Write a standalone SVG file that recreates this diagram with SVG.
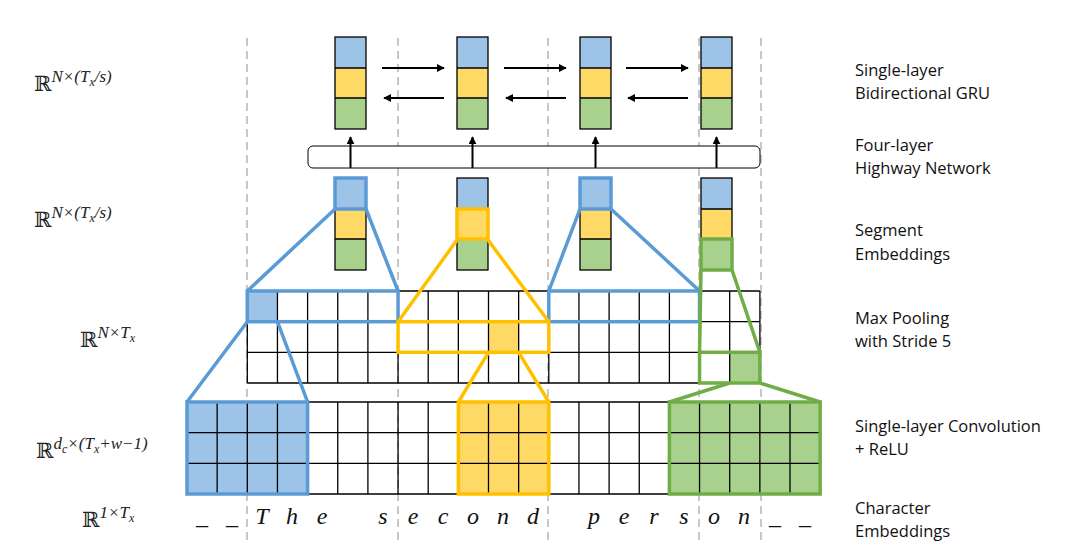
<svg xmlns="http://www.w3.org/2000/svg" width="1089" height="560" viewBox="0 0 1089 560">
<style>
.lbl{font-family:"Open Sans","Liberation Sans",sans-serif;font-size:16.5px;fill:#111}
.m{font-family:"DejaVu Serif","Liberation Serif",serif;font-size:21px;fill:#222}
.ms{font-family:"Liberation Serif",serif;font-style:italic;font-size:17px;fill:#222}
.ss{font-family:"Liberation Serif",serif;font-style:italic;font-size:12px;fill:#222}
.ch{font-family:"Liberation Serif",serif;font-style:italic;font-size:24px;fill:#111;text-anchor:middle}
.g{fill:none;stroke:#000;stroke-width:1.3}
.B{fill:#9DC3E6}.Y{fill:#FFD966}.G{fill:#A9D18E}
.bs{fill:none;stroke:#5B9BD5;stroke-width:3.5}
.ys{fill:none;stroke:#FFC000;stroke-width:3.5}
.gs{fill:none;stroke:#70AD47;stroke-width:3.5}
.d{stroke:#aaa;stroke-width:1.3;stroke-dasharray:8 5}
.a{stroke:#000;stroke-width:2;marker-end:url(#ar)}
</style>
<defs>
<marker id="ar" viewBox="0 0 10 10" refX="9" refY="5" markerWidth="4" markerHeight="4" orient="auto"><path d="M0,0L10,5L0,10z" fill="#000"/></marker>
<g id="stk"><rect x="0" y="0" width="31" height="31" class="B"/><rect x="0" y="31" width="31" height="30" class="Y"/><rect x="0" y="61" width="31" height="31" class="G"/><path d="M0,31H31M0,61H31" class="g"/><rect x="0" y="0" width="31" height="92" class="g"/></g>
</defs>
<rect width="1089" height="560" fill="#fff"/>
<g id="dashes">
<line x1="247" y1="38" x2="247" y2="540" class="d"/><line x1="398" y1="38" x2="398" y2="540" class="d"/><line x1="548" y1="38" x2="548" y2="540" class="d"/><line x1="699" y1="38" x2="699" y2="540" class="d"/><line x1="761" y1="38" x2="761" y2="540" class="d"/>
</g>
<g id="highway"><rect x="308" y="146" width="452" height="22" rx="5" fill="#fff" stroke="#000" stroke-width="1"/></g>
<g id="gru">
<use href="#stk" x="335" y="37"/><use href="#stk" x="457" y="37"/><use href="#stk" x="580" y="37"/><use href="#stk" x="701" y="37"/>
</g>
<g id="segments">
<use href="#stk" x="335" y="178"/><use href="#stk" x="457" y="178"/><use href="#stk" x="580" y="178"/><use href="#stk" x="701" y="178"/>
</g>
<g id="connectors">
<line x1="382" y1="68" x2="444" y2="68" class="a"/><line x1="504" y1="68" x2="566" y2="68" class="a"/><line x1="626" y1="68" x2="688" y2="68" class="a"/>
<line x1="444" y1="98" x2="384" y2="98" class="a"/><line x1="566" y1="98" x2="506" y2="98" class="a"/><line x1="688" y1="98" x2="628" y2="98" class="a"/>
<line x1="350.5" y1="168" x2="350.5" y2="137" class="a"/><line x1="472.5" y1="168" x2="472.5" y2="137" class="a"/><line x1="595.5" y1="168" x2="595.5" y2="137" class="a"/><line x1="716.5" y1="168" x2="716.5" y2="137" class="a"/>
</g>
<g id="maxpool">
<rect x="247.3" y="291" width="30.15" height="30.7" class="B"/>
<rect x="488.5" y="321.7" width="30.15" height="30.6" class="Y"/>
<rect x="729.9" y="352.3" width="30.15" height="30.7" class="G"/>
<path class="g" d="M247.3,291H759.9M247.3,321.7H759.9M247.3,352.3H759.9M247.3,383H759.9M247.3,291V383M277.45,291V383M307.6,291V383M337.75,291V383M367.9,291V383M398.05,291V383M428.2,291V383M458.35,291V383M488.5,291V383M518.65,291V383M548.8,291V383M578.95,291V383M609.1,291V383M639.25,291V383M669.4,291V383M699.55,291V383M729.7,291V383M759.9,291V383"/>
</g>
<g id="conv">
<rect x="187" y="402" width="120.6" height="92" class="B"/>
<rect x="458.35" y="402" width="90.45" height="92" class="Y"/>
<rect x="669.4" y="402" width="150.75" height="92" class="G"/>
<path class="g" d="M187,402H820.15M187,432.7H820.15M187,463.3H820.15M187,494H820.15M187,402V494M217.15,402V494M247.3,402V494M277.45,402V494M307.6,402V494M337.75,402V494M367.9,402V494M398.05,402V494M428.2,402V494M458.35,402V494M488.5,402V494M518.65,402V494M548.8,402V494M578.95,402V494M609.1,402V494M639.25,402V494M669.4,402V494M699.55,402V494M729.7,402V494M759.85,402V494M790,402V494M820.15,402V494"/>
</g>
<g id="highlights">
<rect x="187" y="402" width="120.6" height="92" class="bs"/>
<rect x="458.35" y="402" width="90.45" height="92" class="ys"/>
<rect x="669.4" y="402" width="150.75" height="92" class="gs"/>
<path class="bs" d="M247.3,321.7L187,402M277.45,321.7L307.6,402"/>
<path class="ys" d="M488.5,352.3L458.35,402M518.65,352.3L548.8,402"/>
<path class="gs" d="M729.7,383L669.4,402M759.9,383L820.15,402"/>
<rect x="247.3" y="291" width="150.75" height="30.7" class="bs"/>
<rect x="548.8" y="291" width="150.75" height="30.7" class="bs"/>
<rect x="398.05" y="321.7" width="150.75" height="30.6" class="ys"/>
<rect x="699.55" y="352.3" width="60.3" height="30.7" class="gs"/>
<path class="bs" d="M335,209L247.3,291M366,209L398.05,291M580,209L548.8,291M611,209L699.55,291"/>
<path class="ys" d="M457,240L398.05,321.7M488,240L548.8,321.7"/>
<path class="gs" d="M701,270L699.55,352.3M732,270L759.9,352.3"/>
<rect x="335" y="178" width="31" height="31" class="bs"/>
<rect x="580" y="178" width="31" height="31" class="bs"/>
<rect x="457" y="209" width="31" height="30" class="ys"/>
<rect x="701" y="239" width="31" height="31" class="gs"/>
</g>
<g id="chars">
<text class="ch" x="202" y="524">_</text><text class="ch" x="232" y="524">_</text>
<text class="ch" x="262" y="524">T</text><text class="ch" x="292" y="524">h</text><text class="ch" x="322" y="524">e</text>
<text class="ch" x="383" y="524">s</text><text class="ch" x="413" y="524">e</text><text class="ch" x="443" y="524">c</text><text class="ch" x="473" y="524">o</text><text class="ch" x="503" y="524">n</text><text class="ch" x="533" y="524">d</text>
<text class="ch" x="594" y="524">p</text><text class="ch" x="624" y="524">e</text><text class="ch" x="654" y="524">r</text><text class="ch" x="684" y="524">s</text><text class="ch" x="714" y="524">o</text><text class="ch" x="744" y="524">n</text>
<text class="ch" x="775" y="524">_</text><text class="ch" x="805" y="524">_</text>
</g>
<g id="leftlabels">
<text class="m" x="34" y="91">ℝ<tspan class="ms" dy="-9">N×(T</tspan><tspan class="ss" dy="4">x</tspan><tspan class="ms" dy="-4">/s)</tspan></text>
<text class="m" x="34" y="227">ℝ<tspan class="ms" dy="-9">N×(T</tspan><tspan class="ss" dy="4">x</tspan><tspan class="ms" dy="-4">/s)</tspan></text>
<text class="m" x="80" y="347">ℝ<tspan class="ms" dy="-9">N×T</tspan><tspan class="ss" dy="4">x</tspan></text>
<text class="m" x="36" y="458">ℝ<tspan class="ms" dy="-9">d</tspan><tspan class="ss" dy="4">c</tspan><tspan class="ms" dy="-4">×(T</tspan><tspan class="ss" dy="4">x</tspan><tspan class="ms" dy="-4">+w−1)</tspan></text>
<text class="m" x="82" y="527">ℝ<tspan class="ms" dy="-9">1×T</tspan><tspan class="ss" dy="4">x</tspan></text>
</g>
<g id="rightlabels">
<text class="lbl" x="855" y="76">Single-layer</text><text class="lbl" x="855" y="99">Bidirectional GRU</text>
<text class="lbl" x="855" y="151">Four-layer</text><text class="lbl" x="855" y="174">Highway Network</text>
<text class="lbl" x="855" y="236">Segment</text><text class="lbl" x="855" y="260">Embeddings</text>
<text class="lbl" x="855" y="324">Max Pooling</text><text class="lbl" x="855" y="347">with Stride 5</text>
<text class="lbl" x="855" y="432">Single-layer Convolution</text><text class="lbl" x="855" y="455">+ ReLU</text>
<text class="lbl" x="855" y="514">Character</text><text class="lbl" x="855" y="537">Embeddings</text>
</g>
</svg>
